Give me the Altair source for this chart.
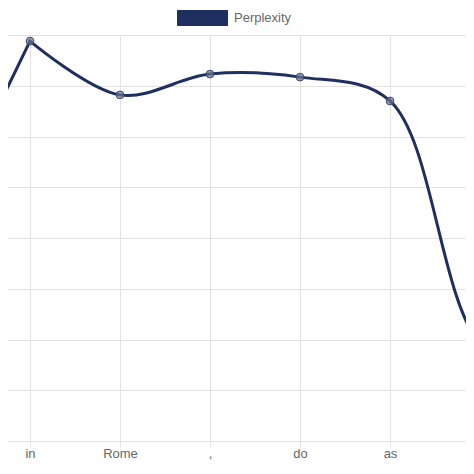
import altair as alt
import pandas as pd

tokens = ["When", "in", "Rome", ",", "do", "as", "the", "Romans", "do."]
positions = [-1, 0, 1, 2, 3, 4, 5, 6, 7]
perplexity = [4.22, 7.88, 6.82, 7.23, 7.17, 6.70, 1.9, 0.8, 0.5]
series = ["Perplexity"] * len(tokens)

df = pd.DataFrame({"pos": positions, "token": tokens, "value": perplexity, "series": series})

label_expr = "{'0':'in','1':'Rome','2':',','3':'do','4':'as'}[toString(datum.value)]"

NAVY = "#1f2f5f"
GRID = "#e3e3e3"
FONT = "Liberation Sans"

x_enc = alt.X(
    "pos:Q",
    scale=alt.Scale(domain=[-0.2444, 4.8444], nice=False, zero=False),
    axis=alt.Axis(
        values=[0, 1, 2, 3, 4],
        labelExpr=label_expr,
        title=None,
        grid=True,
        gridColor=GRID,
        domain=False,
        ticks=True,
        tickSize=6,
        tickColor=GRID,
        labelFont=FONT,
        labelFontSize=13,
        labelColor="#666666",
        labelPadding=0,
        labelFlush=False,
        labelOverlap=False,
    ),
)
y_enc = alt.Y(
    "value:Q",
    scale=alt.Scale(domain=[0, 8], nice=False),
    axis=alt.Axis(
        values=[0, 1, 2, 3, 4, 5, 6, 7, 8],
        labels=False,
        ticks=False,
        domain=False,
        title=None,
        grid=True,
        gridColor=GRID,
    ),
)

color_enc = alt.Color(
    "series:N",
    scale=alt.Scale(range=[NAVY]),
    legend=alt.Legend(
        title=None,
        orient="none",
        legendX=169,
        legendY=-42.5,
        symbolType="M-1,-0.3H1V0.3H-1Z",
        symbolSize=2500,
        symbolFillColor=NAVY,
        symbolStrokeColor=NAVY,
        symbolStrokeWidth=1,
        labelFont=FONT,
        labelFontSize=13,
        labelColor="#666666",
        labelOffset=6,
        padding=0,
    ),
)

base = alt.Chart(df)

line_lead = base.transform_filter("datum.pos <= 0").mark_line(
    interpolate="linear", strokeWidth=3, strokeCap="round", clip=True
).encode(x=x_enc, y=y_enc, color=color_enc)

line_main = base.transform_filter("datum.pos >= 0").mark_line(
    interpolate="catmull-rom", strokeWidth=3, strokeCap="round", clip=True
).encode(x=x_enc, y=y_enc, color=color_enc)

points = base.mark_point(
    shape="circle", size=60, filled=True, fill="#6a7390", fillOpacity=0.7,
    stroke="#3d4a70", strokeWidth=1, clip=True
).encode(x=x_enc, y=y_enc)

chart = alt.layer(line_lead, line_main, points).properties(
    width=458,
    height=406,
    padding={"left": 0, "top": 27, "right": 0, "bottom": 21},
    autosize=alt.AutoSizeParams(type="none"),
).configure_view(stroke=None)

chart.save("out.html", embed_options={"renderer": "svg", "actions": False})
